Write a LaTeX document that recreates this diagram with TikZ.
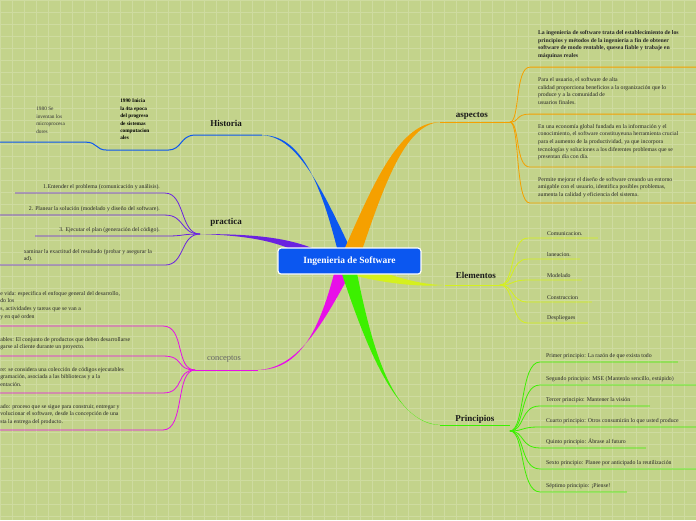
\documentclass[tikz,border=0pt]{standalone}
\usepackage{fontspec}
\setmainfont{Liberation Serif}
\begin{document}
\begin{tikzpicture}[x=1pt,y=-1pt,
  leaf/.style={font=\fontsize{5.8}{7.6}\selectfont,inner sep=0pt,align=left,anchor=south west,text=black!85},
  leafr/.style={leaf,anchor=south east,align=right},
  head/.style={font=\fontsize{9}{11}\selectfont\bfseries,inner sep=0pt,text=black!90}]
\definecolor{bg}{HTML}{C3D38B}
\definecolor{cblue}{HTML}{0B57F0}
\definecolor{cpur}{HTML}{6A22E0}
\definecolor{cmag}{HTML}{E80FE8}
\definecolor{cora}{HTML}{F5A000}
\definecolor{cyel}{HTML}{D5F01E}
\definecolor{cgre}{HTML}{3CF000}
\fill[bg] (0,0) rectangle (696,520);
\foreach \i in {0,12,...,696} \draw[white!18!bg,line width=0.3] (\i,0)--(\i,520);
\foreach \i in {0,12,...,520} \draw[white!18!bg,line width=0.3] (0,\i)--(696,\i);
\useasboundingbox (0,0) rectangle (696,520);
% ---- Historia
\fill[cblue] (338,252) .. controls (320,180) and (300,135) .. (262,135) .. controls (296,137) and (318,180) .. (352,252) -- cycle;
\draw[cblue,line width=1] (262,135) -- (195,135) .. controls (180,135) and (182,150) .. (168,150) -- (107,150) .. controls (95,150) and (98,142) .. (85,142) -- (0,142);
\node[head] (hist) at (226,123) {Historia};
\node[font=\fontsize{5.3}{7.4}\selectfont\bfseries,align=left,anchor=north west,inner sep=0] (h2) at (120,99) {1990 Inicia\\la 4ta epoca\\del progreso\\de sistemas\\computacion\\ales};
\node[font=\fontsize{5.3}{7.4}\selectfont,align=left,anchor=north west,inner sep=0,text=black!80] (h1) at (36,107) {1980 Se\\inventan los\\microprocesa\\dores};
% ---- practica
\fill[cpur] (334,258) .. controls (300,240) and (270,234) .. (200,234) .. controls (270,236) and (300,248) .. (330,274) -- cycle;
\node[head] (prac) at (226,222) {practica};
\coordinate (pj) at (200,234);
\foreach \y/\xs in {193/15,215/0,236/35,265/0} \draw[cpur,line width=0.8] (pj) .. controls (180,234) and (185,\y) .. (165,\y) -- (\xs,\y);
\node[leafr] at (160,190) {1.Entender el problema (comunicación y análisis).};
\node[leafr] at (160,212) {2. Planear la solución (modelado y diseño del software).};
\node[leafr] at (160,233) {3. Ejecutar el plan (generación del código).};
\node[leafr,align=left] at (152,262) {xaminar la exactitud del resultado (probar y asegurar la\\ad).};
% ---- conceptos
\fill[cmag] (336,266) .. controls (320,330) and (300,370) .. (258,370) .. controls (296,368) and (320,330) .. (352,270) -- cycle;
\draw[cmag,line width=0.8] (258,370) -- (195,370);
\node[font=\fontsize{8.5}{10}\selectfont,inner sep=0,text=black!60] (conc) at (224,359) {conceptos};
\coordinate (cj) at (195,370);
\foreach \y in {326,356,393,430} \draw[cmag,line width=0.8] (cj) .. controls (175,370) and (185,\y) .. (163,\y) -- (0,\y);
\node[leaf,anchor=north west] at (0,291) {e vida: especifica el  enfoque general del desarrollo,\\do los\\s, actividades y tareas que se van a\\ y en qué orden};
\node[leaf,anchor=north west] at (0,337) {ables: El conjunto de productos que deben desarrollarse\\garse al cliente durante un proyecto.};
\node[leaf,anchor=north west] at (0,367) {re: se considera una colección de códigos ejecutables\\gramación, asociada a las bibliotecas y a la\\entación.};
\node[leaf,anchor=north west] at (0,404) {ado: proceso que se sigue para construir, entregar y\\volucionar el software, desde la concepción de una\\sta la entrega del producto.};
% ---- aspectos
\fill[cora] (344,250) .. controls (375,180) and (400,122) .. (440,122) .. controls (405,124) and (384,185) .. (360,256) -- cycle;
\draw[cora,line width=0.8] (440,122) -- (510,122);
\node[head] (asp) at (472,116) {aspectos};
\coordinate (aj) at (510,122);
\foreach \y/\xe in {67/696,114/696,167/696,203/696} \draw[cora,line width=0.8] (aj) .. controls (520,122) and (515,\y) .. (530,\y) -- (\xe,\y);
\node[leaf,anchor=north west,font=\fontsize{5.8}{7.6}\selectfont\bfseries] at (538,30) {La ingenieria de software trata del establecimiento de los\\principios y métodos de la ingenieria a fin de obtener\\software de modo rentable, quesea fiable y trabaje en\\máquinas reales};
\node[leaf,anchor=north west] at (538,77) {Para el usuario, el software de alta\\calidad proporciona beneficios a la organización que lo\\produce y a la comunidad de\\usuarios finales.};
\node[leaf,anchor=north west] at (538,124) {En una economía global fundada en la información y el\\conocimiento, el software constituyeuna herramienta crucial\\para el aumento de la productividad, ya que incorpora\\tecnologías y soluciones a los diferentes problemas que se\\presentan día con día.};
\node[leaf,anchor=north west] at (538,177) {Permite mejorar el diseño de software creando un entorno\\amigable con el usuario, identifica posibles problemas,\\aumenta la calidad y eficiencia del sistema.};
% ---- Elementos
\fill[cyel] (356,262) .. controls (390,276) and (420,285) .. (445,285) .. controls (420,287) and (390,284) .. (356,276) -- cycle;
\draw[cyel,line width=0.8] (445,285) -- (500,285);
\node[head] (elem) at (476,275) {Elementos};
\coordinate (ej) at (500,285);
\foreach \y/\xe in {238/598,259/580,280/582,302/592,323/588} \draw[cyel,line width=0.8] (ej) .. controls (515,285) and (510,\y) .. (528,\y) -- (\xe,\y);
\node[leaf] at (547,236) {Comunicacion.};
\node[leaf] at (547,257) {laneacion.};
\node[leaf] at (547,278) {Modelado};
\node[leaf] at (547,300) {Construccion};
\node[leaf] at (547,321) {Despliegues};
% ---- Principios
\fill[cgre] (340,268) .. controls (370,360) and (400,425) .. (440,425) .. controls (395,422) and (374,360) .. (356,268) -- cycle;
\draw[cgre,line width=0.8] (440,425) -- (510,425);
\node[head] (prin) at (475,419) {Principios};
\coordinate (gj) at (510,431);
\foreach \y/\xe in {362/678,385/696,406/650,427/696,448/646,469/696,492/627} \draw[cgre,line width=0.8] (gj) .. controls (525,431) and (520,\y) .. (540,\y) -- (\xe,\y);
\node[leaf] at (546,359) {Primer principio: La razón de que exista todo};
\node[leaf] at (546,382) {Segundo principio: MSE (Mantenlo sencillo, estúpido)};
\node[leaf] at (546,403) {Tercer principio: Mantener la visión};
\node[leaf] at (546,424) {Cuarto principio: Otros consumirán lo que usted produce};
\node[leaf] at (546,445) {Quinto principio: Ábrase al futuro};
\node[leaf] at (546,466) {Sexto principio: Planee por anticipado la reutilización};
\node[leaf] at (546,489) {Séptimo principio: ¡Piense!};
% ---- center
\node[draw=white,line width=1.2,fill=cblue,rounded corners=3,minimum width=143,minimum height=26,text=white,font=\fontsize{9.5}{11}\selectfont\bfseries] (c) at (349.5,261) {Ingenieria de Software};
\end{tikzpicture}
\end{document}
